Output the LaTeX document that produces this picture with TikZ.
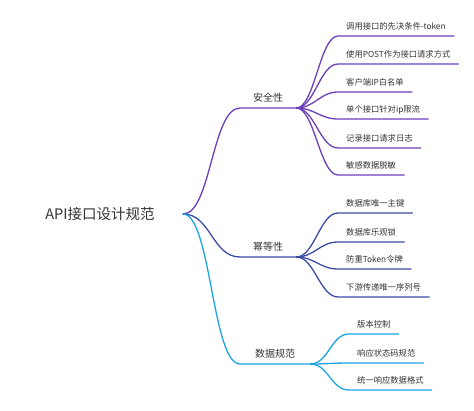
\documentclass[tikz,border=0pt]{standalone}
\usepackage{fontspec}
\setmainfont{Noto Sans CJK SC}
\usetikzlibrary{positioning, calc}
\definecolor{secpurple}{RGB}{107,63,184}
\definecolor{idemblue}{RGB}{58,76,168}
\definecolor{datacyan}{RGB}{28,163,227}
\definecolor{txtgray}{RGB}{51,51,51}

\begin{document}
\begin{tikzpicture}[x=1pt, y=-1pt,
    branch/.style={anchor=south west, inner xsep=13pt, inner ysep=5pt,
        text height=7.5pt, text depth=1.5pt,
        font=\fontsize{10}{12}\selectfont, text=txtgray},
    leaf/.style={anchor=south west, inner xsep=8pt, inner ysep=5pt,
        text height=6.5pt, text depth=1pt,
        font=\fontsize{8.3}{10}\selectfont, text=txtgray},
    link/.style={line width=1.3pt, line cap=round}]
    \useasboundingbox (0,0) rectangle (474,411);

    % central topic and the point the branches grow from
    \node[font=\fontsize{14.5}{17}\selectfont, text=txtgray, inner sep=0pt]
        (root) at (100,214) {API接口设计规范};
    \coordinate (hub) at (183,214);

    % main branches
    \node[branch] (sec)  at (240,108) {安全性};
    \node[branch] (idem) at (240,257) {幂等性};
    \node[branch, inner xsep=15pt] (data) at (240,364) {数据规范};

    \draw[link, secpurple] (hub) .. controls +(28,0) and +(-28,0) .. (sec.south west) -- (sec.south east);
    \draw[link, idemblue] (hub) .. controls +(28,0) and +(-28,0) .. (idem.south west) -- (idem.south east);
    \draw[link, datacyan] (hub) .. controls +(28,0) and +(-28,0) .. (data.south west) -- (data.south east);

    % security leaves
    \node[leaf] (sec1) at (338,36)  {调用接口的先决条件-token};
    \node[leaf] (sec2) at (338,64)  {使用POST作为接口请求方式};
    \node[leaf] (sec3) at (338,92)  {客户端IP白名单};
    \node[leaf] (sec4) at (338,119) {单个接口针对ip限流};
    \node[leaf] (sec5) at (338,148) {记录接口请求日志};
    \node[leaf] (sec6) at (338,175) {敏感数据脱敏};

    \draw[link, secpurple] (sec.south east) .. controls +(18,0) and +(-18,0) .. (sec1.south west) -- (sec1.south east);
    \draw[link, secpurple] (sec.south east) .. controls +(18,0) and +(-18,0) .. (sec2.south west) -- (sec2.south east);
    \draw[link, secpurple] (sec.south east) .. controls +(18,0) and +(-18,0) .. (sec3.south west) -- (sec3.south east);
    \draw[link, secpurple] (sec.south east) .. controls +(18,0) and +(-18,0) .. (sec4.south west) -- (sec4.south east);
    \draw[link, secpurple] (sec.south east) .. controls +(18,0) and +(-18,0) .. (sec5.south west) -- (sec5.south east);
    \draw[link, secpurple] (sec.south east) .. controls +(18,0) and +(-18,0) .. (sec6.south west) -- (sec6.south east);

    % idempotency leaves
    \node[leaf] (idem1) at (338,213) {数据库唯一主键};
    \node[leaf] (idem2) at (338,242) {数据库乐观锁};
    \node[leaf] (idem3) at (338,269) {防重Token令牌};
    \node[leaf] (idem4) at (338,297) {下游传递唯一序列号};

    \draw[link, idemblue] (idem.south east) .. controls +(18,0) and +(-18,0) .. (idem1.south west) -- (idem1.south east);
    \draw[link, idemblue] (idem.south east) .. controls +(18,0) and +(-18,0) .. (idem2.south west) -- (idem2.south east);
    \draw[link, idemblue] (idem.south east) .. controls +(18,0) and +(-18,0) .. (idem3.south west) -- (idem3.south east);
    \draw[link, idemblue] (idem.south east) .. controls +(18,0) and +(-18,0) .. (idem4.south west) -- (idem4.south east);

    % data format leaves
    \node[leaf] (data1) at (349,334) {版本控制};
    \node[leaf] (data2) at (349,363) {响应状态码规范};
    \node[leaf] (data3) at (349,390) {统一响应数据格式};

    \draw[link, datacyan] (data.south east) .. controls +(18,0) and +(-18,0) .. (data1.south west) -- (data1.south east);
    \draw[link, datacyan] (data.south east) .. controls +(18,0) and +(-18,0) .. (data2.south west) -- (data2.south east);
    \draw[link, datacyan] (data.south east) .. controls +(18,0) and +(-18,0) .. (data3.south west) -- (data3.south east);
\end{tikzpicture}
\end{document}
